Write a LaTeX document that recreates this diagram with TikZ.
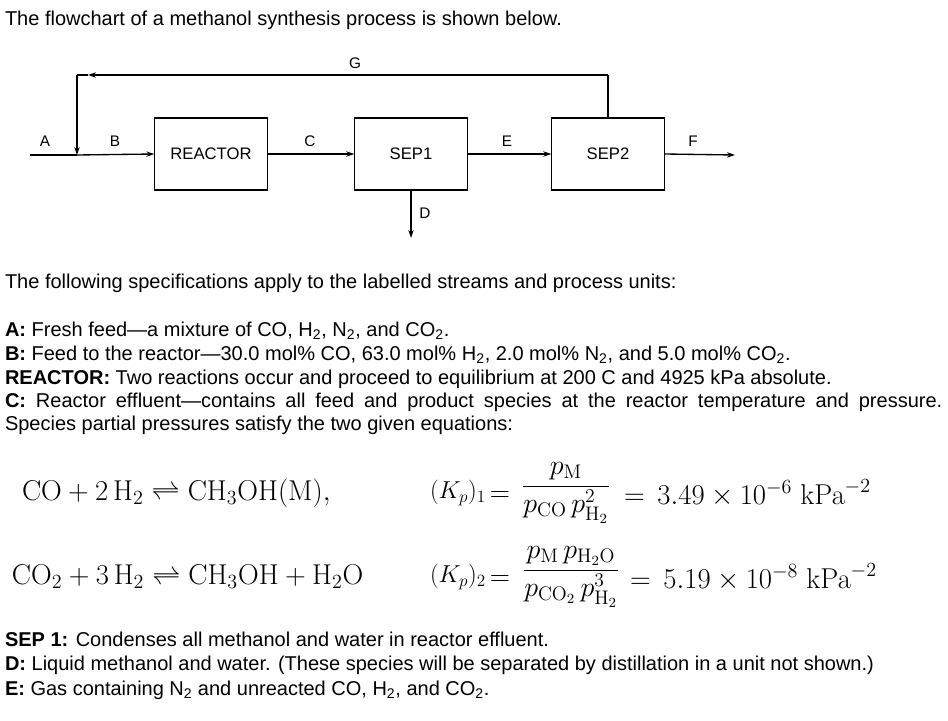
\RequirePackage{fix-cm}
\documentclass[tikz,border=0pt]{standalone}
\usepackage{amsmath}
\usepackage[no-math]{fontspec}
\setmainfont{Liberation Sans}
\usetikzlibrary{arrows.meta}
\begin{document}
\begin{tikzpicture}[x=0.75pt,y=-0.75pt,
  every node/.style={inner sep=0pt,outer sep=0pt},
  unit/.style={draw,line width=0.8pt,minimum width=85pt,minimum height=54pt,font=\fontsize{12.5}{14}\selectfont},
  flow/.style={line width=1pt,-{Stealth[length=6pt,width=4pt]}},
  slab/.style={font=\fontsize{11.5}{13}\selectfont},
  txt/.style={anchor=west,font=\fontsize{15}{17.3}\selectfont},
  eq/.style={anchor=west,font=\fontsize{17.5}{21}\selectfont,scale=1.23,transform shape},
  keq/.style={anchor=west,font=\fontsize{17.5}{21}\selectfont,scale=1.05,transform shape},
  eqc/.style={font=\fontsize{17.5}{21}\selectfont,scale=1.2,transform shape}]
\useasboundingbox (0,0) rectangle (948,720);
\node[txt] (title) at (5,20) {The flowchart of a methanol synthesis process is shown below.};
% units
\node[unit] (reac) at (211,154) {REACTOR};
\node[unit] (sep1) at (411,154) {SEP1};
\node[unit] (sep2) at (608,154) {SEP2};
\coordinate (a0) at (30,155);
\coordinate (mix) at (77,155);
\coordinate (gtop) at (77,75);
\coordinate (s2top) at (608,75);
\coordinate (fend) at (735,155);
\coordinate (dend) at (411,238);
\draw[line width=1pt] (a0) -- (mix);
\draw[flow] (mix) -- (reac.west);
\draw[flow] (reac.east) -- (sep1.west);
\draw[flow] (sep1.east) -- (sep2.west);
\draw[flow] (sep2.east) -- (fend);
\draw[flow] (sep1.south) -- (dend);
\draw[line width=1pt] (sep2.north) -- (s2top);
\draw[flow] (s2top) -- (88,75);
\draw[line width=1pt] (88,75) -- (gtop);
\draw[flow] (gtop) -- (mix);
\node[slab] (lA) at (45,141) {A};
\node[slab] (lB) at (115,141) {B};
\node[slab] (lC) at (310,141) {C};
\node[slab] (lE) at (507,141) {E};
\node[slab] (lF) at (693,141) {F};
\node[slab] (lG) at (355,63) {G};
\node[slab] (lD) at (425,213) {D};
% text
\node[txt] (spec) at (5,283) {The following specifications apply to the labelled streams and process units:};
\node[txt] (tA) at (5,331) {\textbf{A:} Fresh feed—a mixture of CO, H\textsubscript{2}, N\textsubscript{2}, and CO\textsubscript{2}.};
\node[txt] (tB) at (5,355) {\textbf{B:} Feed to the reactor—30.0 mol\% CO, 63.0 mol\% H\textsubscript{2}, 2.0 mol\% N\textsubscript{2}, and 5.0 mol\% CO\textsubscript{2}.};
\node[txt] (tR) at (5,379) {\textbf{REACTOR:} Two reactions occur and proceed to equilibrium at 200 C and 4925 kPa absolute.};
\node[txt,anchor=north west,text width=703pt,align=justify] (tC) at (5,393) {\textbf{C:} Reactor effluent—contains all feed and product species at the reactor temperature and pressure.\linebreak Species partial pressures satisfy the two given equations:};
% equations
\node[eq] (r1) at (22,493) {$\mathrm{CO} + 2\,\mathrm{H_2} \rightleftharpoons \mathrm{CH_3OH(M)},$};
\node[keq] (k1) at (430,493) {$(K_p)_1$};
\node[eqc] (e1) at (500,497) {$=$};
\node[eqc] (f1) at (566,493) {$\dfrac{p_{\mathrm{M}}}{p_{\mathrm{CO}}\,p_{\mathrm{H_2}}^{2}}$};
\node[eq] (v1) at (624,493) {$=\, 3.49\times10^{-6}\ \mathrm{kPa}^{-2}$};
\node[eq] (r2) at (12,577) {$\mathrm{CO_2} + 3\,\mathrm{H_2} \rightleftharpoons \mathrm{CH_3OH} + \mathrm{H_2O}$};
\node[keq] (k2) at (430,577) {$(K_p)_2$};
\node[eqc] (e2) at (500,581) {$=$};
\node[eqc] (f2) at (571,577) {$\dfrac{p_{\mathrm{M}}\,p_{\mathrm{H_2O}}}{p_{\mathrm{CO_2}}\,p_{\mathrm{H_2}}^{3}}$};
\node[eq] (v2) at (630,577) {$=\, 5.19\times10^{-8}\ \mathrm{kPa}^{-2}$};
\node[txt] (t1) at (5,639) {\textbf{SEP 1:} Condenses all methanol and water in reactor effluent.};
\node[txt] (tD) at (5,665) {\textbf{D:} Liquid methanol and water. (These species will be separated by distillation in a unit not shown.)};
\node[txt] (tE) at (5,690) {\textbf{E:} Gas containing N\textsubscript{2} and unreacted CO, H\textsubscript{2}, and CO\textsubscript{2}.};
\end{tikzpicture}
\end{document}
